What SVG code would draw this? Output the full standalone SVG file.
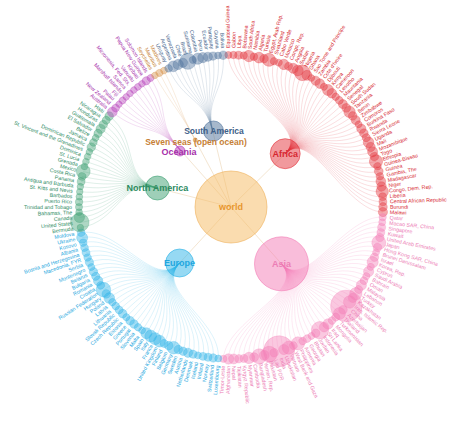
<svg xmlns="http://www.w3.org/2000/svg" width="474" height="423" viewBox="0 0 474 423">
<style>
text{font-family:"Liberation Sans",Arial,Helvetica,sans-serif}
.lf text{font-size:5.3px}
.lf .e{text-anchor:end}
.lf circle{fill-opacity:.42;stroke-width:.5;stroke-opacity:.5}
.af circle{fill:#e3343c;stroke:#e3343c}.af text{fill:#d62730}
.as circle{fill:#f47cb6;stroke:#f47cb6}.as text{fill:#ec7db5}
.eu circle{fill:#2eb3e8;stroke:#2eb3e8}.eu text{fill:#22a6de}
.na circle{fill:#3d9f72;stroke:#3d9f72}.na text{fill:#2d8b5f}
.oc circle{fill:#b63db9;stroke:#b63db9}.oc text{fill:#a630aa}
.ss circle{fill:#d58d40;stroke:#d58d40}.ss text{fill:#c67f36}
.sa circle{fill:#4d719a;stroke:#4d719a}.sa text{fill:#3e6189}
.wd circle{fill:#f5b95f;stroke:#eeae55}.wd text{fill:#e8962e}
g.lk{fill:none;stroke-width:.45;stroke-opacity:.34}
.cn circle{fill-opacity:.5;stroke-opacity:.75;stroke-width:.8}
.cn text{font-size:9px;font-weight:bold;text-anchor:middle}
.cn .sm{font-size:8.5px}
</style>
<defs>
<path id="k0" d="M76 0L152 0"/>
<path id="k1" d="M76 0C114 0 114 1.9 152 2.6M76 0C114 0 114 -1.9 152 -2.6"/>
<path id="k2" d="M76 0C114 0 113.9 3.9 151.9 5.1M76 0C114 0 113.9 -3.9 151.9 -5.1"/>
<path id="k3" d="M76 0C114 0 113.9 5.8 151.8 7.7M76 0C114 0 113.9 -5.8 151.8 -7.7"/>
<path id="k4" d="M76 0C114 0 113.7 7.7 151.7 10.3M76 0C114 0 113.7 -7.7 151.7 -10.3"/>
<path id="k5" d="M76 0C114 0 113.6 9.6 151.5 12.8M76 0C114 0 113.6 -9.6 151.5 -12.8"/>
<path id="k6" d="M76 0C114 0 113.4 11.5 151.2 15.4M76 0C114 0 113.4 -11.5 151.2 -15.4"/>
<path id="k7" d="M76 0C114 0 113.2 13.4 150.9 17.9M76 0C114 0 113.2 -13.4 150.9 -17.9"/>
<path id="k8" d="M76 0C114 0 113 15.4 150.6 20.5M76 0C114 0 113 -15.4 150.6 -20.5"/>
<path id="k9" d="M76 0C114 0 112.7 17.3 150.2 23M76 0C114 0 112.7 -17.3 150.2 -23"/>
<path id="k10" d="M76 0C114 0 112.4 19.2 149.8 25.6M76 0C114 0 112.4 -19.2 149.8 -25.6"/>
<path id="k11" d="M76 0C114 0 112 21.1 149.4 28.1M76 0C114 0 112 -21.1 149.4 -28.1"/>
<path id="k12" d="M76 0C114 0 111.7 22.9 148.9 30.6M76 0C114 0 111.7 -22.9 148.9 -30.6"/>
<path id="k13" d="M76 0C114 0 111.3 24.8 148.4 33.1M76 0C114 0 111.3 -24.8 148.4 -33.1"/>
<path id="k14" d="M76 0C114 0 110.8 26.7 147.8 35.6M76 0C114 0 110.8 -26.7 147.8 -35.6"/>
<path id="k15" d="M76 0C114 0 110.4 28.6 147.2 38.1M76 0C114 0 110.4 -28.6 147.2 -38.1"/>
<path id="k16" d="M76 0C114 0 109.9 30.4 146.5 40.6M76 0C114 0 109.9 -30.4 146.5 -40.6"/>
<path id="k17" d="M76 0C114 0 109.3 32.3 145.8 43M76 0C114 0 109.3 -32.3 145.8 -43"/>
<path id="k18" d="M76 0C114 0 108.8 34.1 145 45.5M76 0C114 0 108.8 -34.1 145 -45.5"/>
<path id="k19" d="M76 0C114 0 108.2 36 144.2 47.9M76 0C114 0 108.2 -36 144.2 -47.9"/>
<path id="k20" d="M76 0C114 0 107.6 37.8 143.4 50.4M76 0C114 0 107.6 -37.8 143.4 -50.4"/>
<path id="k21" d="M76 0C114 0 106.9 39.6 142.5 52.8M76 0C114 0 106.9 -39.6 142.5 -52.8"/>
<path id="k22" d="M76 0C114 0 106.2 41.4 141.6 55.2M76 0C114 0 106.2 -41.4 141.6 -55.2"/>
<path id="k23" d="M76 0C114 0 105.5 43.2 140.7 57.6M76 0C114 0 105.5 -43.2 140.7 -57.6"/>
<path id="k24" d="M76 0C114 0 104.8 45 139.7 59.9M76 0C114 0 104.8 -45 139.7 -59.9"/>
<path id="k25" d="M76 0C114 0 104 46.7 138.7 62.3M76 0C114 0 104 -46.7 138.7 -62.3"/>
<path id="k26" d="M76 0C114 0 103.2 48.5 137.6 64.6M76 0C114 0 103.2 -48.5 137.6 -64.6"/>
<path id="k27" d="M76 0C114 0 102.4 50.2 136.5 66.9M76 0C114 0 102.4 -50.2 136.5 -66.9"/>
<path id="k28" d="M76 0C114 0 101.5 51.9 135.3 69.2M76 0C114 0 101.5 -51.9 135.3 -69.2"/>
<path id="k29" d="M76 0C114 0 100.6 53.6 134.1 71.5M76 0C114 0 100.6 -53.6 134.1 -71.5"/>
<path id="k30" d="M76 0C114 0 99.7 55.3 132.9 73.8M76 0C114 0 99.7 -55.3 132.9 -73.8"/>
<path id="k31" d="M76 0C114 0 98.7 57 131.6 76M76 0C114 0 98.7 -57 131.6 -76"/>
<path id="k32" d="M76 0C114 0 97.8 58.7 130.3 78.2M76 0C114 0 97.8 -58.7 130.3 -78.2"/>
<path id="k33" d="M76 0C114 0 96.7 60.3 129 80.4M76 0C114 0 96.7 -60.3 129 -80.4"/>
<path id="k34" d="M76 0C114 0 95.7 61.9 127.6 82.6M76 0C114 0 95.7 -61.9 127.6 -82.6"/>
<path id="k35" d="M76 0C114 0 94.7 63.5 126.2 84.7M76 0C114 0 94.7 -63.5 126.2 -84.7"/>
<path id="k36" d="M76 0C114 0 93.6 65.1 124.8 86.8M76 0C114 0 93.6 -65.1 124.8 -86.8"/>
<path id="k37" d="M76 0C114 0 92.5 66.7 123.3 88.9M76 0C114 0 92.5 -66.7 123.3 -88.9"/>
<path id="k38" d="M76 0C114 0 91.3 68.2 121.8 91M76 0C114 0 91.3 -68.2 121.8 -91"/>
<path id="k39" d="M76 0C114 0 90.1 69.8 120.2 93M76 0C114 0 90.1 -69.8 120.2 -93"/>
<path id="k40" d="M76 0C114 0 89 71.3 118.6 95.1M76 0C114 0 89 -71.3 118.6 -95.1"/>
<path id="k42" d="M76 0C114 0 86.5 74.3 115.3 99M76 0C114 0 86.5 -74.3 115.3 -99"/>
<path id="k44" d="M76 0C114 0 83.9 77.1 111.9 102.9M76 0C114 0 83.9 -77.1 111.9 -102.9"/>
<path id="k46" d="M76 0C114 0 81.3 79.9 108.4 106.6M76 0C114 0 81.3 -79.9 108.4 -106.6"/>
<path id="k48" d="M76 0C114 0 78.5 82.6 104.7 110.2M76 0C114 0 78.5 -82.6 104.7 -110.2"/>
</defs>
<rect width="474" height="423" fill="#fff"/>
<g id="connectors">
<g id="world-links" stroke="#e6c9a2" stroke-width=".7" stroke-opacity=".7">
<line x1="231" y1="207" x2="285.2" y2="153.7"/>
<line x1="231" y1="207" x2="281.5" y2="263.8"/>
<line x1="231" y1="207" x2="179.6" y2="263"/>
<line x1="231" y1="207" x2="157.4" y2="188"/>
<line x1="231" y1="207" x2="180.5" y2="150.2"/>
<line x1="231" y1="207" x2="195.2" y2="140"/>
<line x1="231" y1="207" x2="213.2" y2="133.1"/>
</g>
<g class="lk" stroke="#e3343c" transform="translate(231 207) rotate(-44.55)"><use href="#k0"/><use href="#k2"/><use href="#k4"/><use href="#k6"/><use href="#k8"/><use href="#k10"/><use href="#k12"/><use href="#k14"/><use href="#k16"/><use href="#k18"/><use href="#k20"/><use href="#k22"/><use href="#k24"/><use href="#k26"/><use href="#k28"/><use href="#k30"/><use href="#k32"/><use href="#k34"/><use href="#k36"/><use href="#k38"/><use href="#k40"/><use href="#k42"/><use href="#k44"/><use href="#k46"/><use href="#k48"/></g>
<g class="lk" stroke="#f47cb6" transform="translate(231 207) rotate(48.35)"><use href="#k0"/><use href="#k2"/><use href="#k4"/><use href="#k6"/><use href="#k8"/><use href="#k10"/><use href="#k12"/><use href="#k14"/><use href="#k16"/><use href="#k18"/><use href="#k20"/><use href="#k22"/><use href="#k24"/><use href="#k26"/><use href="#k28"/><use href="#k30"/><use href="#k32"/><use href="#k34"/><use href="#k36"/><use href="#k38"/><use href="#k40"/><use href="#k42"/><use href="#k44"/><use href="#k46"/></g>
<g class="lk" stroke="#2eb3e8" transform="translate(231 207) rotate(132.55)"><use href="#k1"/><use href="#k3"/><use href="#k5"/><use href="#k7"/><use href="#k9"/><use href="#k11"/><use href="#k13"/><use href="#k15"/><use href="#k17"/><use href="#k19"/><use href="#k21"/><use href="#k23"/><use href="#k25"/><use href="#k27"/><use href="#k29"/><use href="#k31"/><use href="#k33"/><use href="#k35"/><use href="#k37"/><use href="#k39"/></g>
<g class="lk" stroke="#3d9f72" transform="translate(231 207) rotate(194.48)"><use href="#k1"/><use href="#k3"/><use href="#k5"/><use href="#k7"/><use href="#k9"/><use href="#k11"/><use href="#k13"/><use href="#k15"/><use href="#k17"/><use href="#k19"/><use href="#k21"/><use href="#k23"/></g>
<g class="lk" stroke="#b63db9" transform="translate(231 207) rotate(228.35)"><use href="#k0"/><use href="#k2"/><use href="#k4"/><use href="#k6"/><use href="#k8"/><use href="#k10"/></g>
<g class="lk" stroke="#d58d40" transform="translate(231 207) rotate(241.9)"><use href="#k0"/><use href="#k2"/></g>
<g class="lk" stroke="#4d719a" transform="translate(231 207) rotate(256.42)"><use href="#k1"/><use href="#k3"/><use href="#k5"/><use href="#k7"/><use href="#k9"/><use href="#k11"/></g>
</g>
<g class="cn">
<g id="world" class="wd"><circle cx="231" cy="207" r="36" fill-opacity=".55"/></g>
<g id="asia" class="as"><circle cx="281.5" cy="263.8" r="27" fill-opacity=".4"/></g>
<g id="africa" class="af"><circle cx="285.2" cy="153.7" r="15"/></g>
<g id="europe" class="eu"><circle cx="179.6" cy="263" r="14"/></g>
<g id="north-america" class="na"><circle cx="157.4" cy="188" r="12"/></g>
<g id="south-america" class="sa"><circle cx="213.5" cy="131" r="10"/></g>
<g id="oceania" class="oc"><circle cx="180" cy="151" r="5"/></g>
<g id="seven-seas" class="ss"><circle cx="195.2" cy="140" r="2"/></g>
</g>
<g class="lf af" transform="translate(231 207)">
<g id="equatorial-guinea" transform="rotate(-91)"><circle cx="152" r="3.6"/><text x="159" dy="1.8">Equatorial Guinea</text></g>
<g id="gabon" transform="rotate(-89.06)"><circle cx="152" r="3.7"/><text x="159" dy="1.8">Gabon</text></g>
<g id="libya" transform="rotate(-87.13)"><circle cx="152" r="4"/><text x="159" dy="1.8">Libya</text></g>
<g id="botswana" transform="rotate(-85.19)"><circle cx="152" r="3.7"/><text x="159" dy="1.8">Botswana</text></g>
<g id="south-africa" transform="rotate(-83.26)"><circle cx="152" r="5.7"/><text x="159" dy="1.8">South Africa</text></g>
<g id="namibia" transform="rotate(-81.32)"><circle cx="152" r="3.7"/><text x="159" dy="1.8">Namibia</text></g>
<g id="algeria" transform="rotate(-79.39)"><circle cx="152" r="5.4"/><text x="159" dy="1.8">Algeria</text></g>
<g id="tunisia" transform="rotate(-77.45)"><circle cx="152" r="4.3"/><text x="159" dy="1.8">Tunisia</text></g>
<g id="egypt" transform="rotate(-75.52)"><circle cx="152" r="6.5"/><text x="159" dy="1.8">Egypt, Arab Rep.</text></g>
<g id="swaziland" transform="rotate(-73.58)"><circle cx="152" r="3.6"/><text x="159" dy="1.8">Swaziland</text></g>
<g id="cabo-verde" transform="rotate(-71.65)"><circle cx="152" r="3.4"/><text x="159" dy="1.8">Cabo Verde</text></g>
<g id="morocco" transform="rotate(-69.71)"><circle cx="152" r="5.2"/><text x="159" dy="1.8">Morocco</text></g>
<g id="congo-rep" transform="rotate(-67.77)"><circle cx="152" r="3.9"/><text x="159" dy="1.8">Congo, Rep.</text></g>
<g id="angola" transform="rotate(-65.84)"><circle cx="152" r="5"/><text x="159" dy="1.8">Angola</text></g>
<g id="sudan" transform="rotate(-63.9)"><circle cx="152" r="5.4"/><text x="159" dy="1.8">Sudan</text></g>
<g id="nigeria" transform="rotate(-61.97)"><circle cx="152" r="7.8"/><text x="159" dy="1.8">Nigeria</text></g>
<g id="ghana" transform="rotate(-60.03)"><circle cx="152" r="5"/><text x="159" dy="1.8">Ghana</text></g>
<g id="sao-tome" transform="rotate(-58.1)"><circle cx="152" r="3.4"/><text x="159" dy="1.8">Sao Tome and Principe</text></g>
<g id="zambia" transform="rotate(-56.16)"><circle cx="152" r="4.6"/><text x="159" dy="1.8">Zambia</text></g>
<g id="cote-divoire" transform="rotate(-54.23)"><circle cx="152" r="4.8"/><text x="159" dy="1.8">Cote d'Ivoire</text></g>
<g id="djibouti" transform="rotate(-52.29)"><circle cx="152" r="3.5"/><text x="159" dy="1.8">Djibouti</text></g>
<g id="kenya" transform="rotate(-50.35)"><circle cx="152" r="5.5"/><text x="159" dy="1.8">Kenya</text></g>
<g id="cameroon" transform="rotate(-48.42)"><circle cx="152" r="4.8"/><text x="159" dy="1.8">Cameroon</text></g>
<g id="lesotho" transform="rotate(-46.48)"><circle cx="152" r="3.7"/><text x="159" dy="1.8">Lesotho</text></g>
<g id="mauritania" transform="rotate(-44.55)"><circle cx="152" r="3.9"/><text x="159" dy="1.8">Mauritania</text></g>
<g id="senegal" transform="rotate(-42.61)"><circle cx="152" r="4.5"/><text x="159" dy="1.8">Senegal</text></g>
<g id="south-sudan" transform="rotate(-40.68)"><circle cx="152" r="4.4"/><text x="159" dy="1.8">South Sudan</text></g>
<g id="tanzania" transform="rotate(-38.74)"><circle cx="152" r="5.7"/><text x="159" dy="1.8">Tanzania</text></g>
<g id="benin" transform="rotate(-36.81)"><circle cx="152" r="4.3"/><text x="159" dy="1.8">Benin</text></g>
<g id="zimbabwe" transform="rotate(-34.87)"><circle cx="152" r="4.5"/><text x="159" dy="1.8">Zimbabwe</text></g>
<g id="comoros" transform="rotate(-32.94)"><circle cx="152" r="3.5"/><text x="159" dy="1.8">Comoros</text></g>
<g id="burkina-faso" transform="rotate(-31)"><circle cx="152" r="4.6"/><text x="159" dy="1.8">Burkina Faso</text></g>
<g id="rwanda" transform="rotate(-29.06)"><circle cx="152" r="4.3"/><text x="159" dy="1.8">Rwanda</text></g>
<g id="sierra-leone" transform="rotate(-27.13)"><circle cx="152" r="4.1"/><text x="159" dy="1.8">Sierra Leone</text></g>
<g id="uganda" transform="rotate(-25.19)"><circle cx="152" r="5.3"/><text x="159" dy="1.8">Uganda</text></g>
<g id="mali" transform="rotate(-23.26)"><circle cx="152" r="4.6"/><text x="159" dy="1.8">Mali</text></g>
<g id="mozambique" transform="rotate(-21.32)"><circle cx="152" r="5"/><text x="159" dy="1.8">Mozambique</text></g>
<g id="togo" transform="rotate(-19.39)"><circle cx="152" r="4.1"/><text x="159" dy="1.8">Togo</text></g>
<g id="ethiopia" transform="rotate(-17.45)"><circle cx="152" r="6.6"/><text x="159" dy="1.8">Ethiopia</text></g>
<g id="guinea-bissau" transform="rotate(-15.52)"><circle cx="152" r="3.7"/><text x="159" dy="1.8">Guinea-Bissau</text></g>
<g id="guinea" transform="rotate(-13.58)"><circle cx="152" r="4.4"/><text x="159" dy="1.8">Guinea</text></g>
<g id="gambia" transform="rotate(-11.65)"><circle cx="152" r="3.7"/><text x="159" dy="1.8">Gambia, The</text></g>
<g id="madagascar" transform="rotate(-9.71)"><circle cx="152" r="4.9"/><text x="159" dy="1.8">Madagascar</text></g>
<g id="niger" transform="rotate(-7.77)"><circle cx="152" r="4.7"/><text x="159" dy="1.8">Niger</text></g>
<g id="congo-dem-rep" transform="rotate(-5.84)"><circle cx="152" r="6.2"/><text x="159" dy="1.8">Congo, Dem. Rep.</text></g>
<g id="liberia" transform="rotate(-3.9)"><circle cx="152" r="3.9"/><text x="159" dy="1.8">Liberia</text></g>
<g id="central-african-republic" transform="rotate(-1.97)"><circle cx="152" r="3.9"/><text x="159" dy="1.8">Central African Republic</text></g>
<g id="burundi" transform="rotate(-0.03)"><circle cx="152" r="4.3"/><text x="159" dy="1.8">Burundi</text></g>
<g id="malawi" transform="rotate(1.9)"><circle cx="152" r="4.6"/><text x="159" dy="1.8">Malawi</text></g>
</g>
<g class="lf as" transform="translate(231 207)">
<g id="qatar" transform="rotate(3.84)"><circle cx="152" r="3.7"/><text x="159" dy="1.8">Qatar</text></g>
<g id="macao" transform="rotate(5.77)"><circle cx="152" r="3.5"/><text x="159" dy="1.8">Macao SAR, China</text></g>
<g id="singapore" transform="rotate(7.71)"><circle cx="152" r="4"/><text x="159" dy="1.8">Singapore</text></g>
<g id="kuwait" transform="rotate(9.65)"><circle cx="152" r="3.9"/><text x="159" dy="1.8">Kuwait</text></g>
<g id="uae" transform="rotate(11.58)"><circle cx="152" r="4.2"/><text x="159" dy="1.8">United Arab Emirates</text></g>
<g id="japan" transform="rotate(13.52)"><circle cx="152" r="7"/><text x="159" dy="1.8">Japan</text></g>
<g id="hong-kong" transform="rotate(15.45)"><circle cx="152" r="4.1"/><text x="159" dy="1.8">Hong Kong SAR, China</text></g>
<g id="brunei" transform="rotate(17.39)"><circle cx="152" r="3.4"/><text x="159" dy="1.8">Brunei Darussalam</text></g>
<g id="israel" transform="rotate(19.32)"><circle cx="152" r="4.2"/><text x="159" dy="1.8">Israel</text></g>
<g id="korea" transform="rotate(21.26)"><circle cx="152" r="5.6"/><text x="159" dy="1.8">Korea, Rep.</text></g>
<g id="cyprus" transform="rotate(23.19)"><circle cx="152" r="3.6"/><text x="159" dy="1.8">Cyprus</text></g>
<g id="saudi-arabia" transform="rotate(25.13)"><circle cx="152" r="5.1"/><text x="159" dy="1.8">Saudi Arabia</text></g>
<g id="bahrain" transform="rotate(27.06)"><circle cx="152" r="3.6"/><text x="159" dy="1.8">Bahrain</text></g>
<g id="oman" transform="rotate(29)"><circle cx="152" r="3.9"/><text x="159" dy="1.8">Oman</text></g>
<g id="malaysia" transform="rotate(30.94)"><circle cx="152" r="5.1"/><text x="159" dy="1.8">Malaysia</text></g>
<g id="lebanon" transform="rotate(32.87)"><circle cx="152" r="4"/><text x="159" dy="1.8">Lebanon</text></g>
<g id="turkey" transform="rotate(34.81)"><circle cx="152" r="6.2"/><text x="159" dy="1.8">Turkey</text></g>
<g id="kazakhstan" transform="rotate(36.74)"><circle cx="152" r="4.6"/><text x="159" dy="1.8">Kazakhstan</text></g>
<g id="iran" transform="rotate(38.68)"><circle cx="152" r="6.2"/><text x="159" dy="1.8">Iran, Islamic Rep.</text></g>
<g id="china" transform="rotate(40.61)"><circle cx="152" r="15.8"/><text x="159" dy="1.8">China</text></g>
<g id="azerbaijan" transform="rotate(42.55)"><circle cx="152" r="4.3"/><text x="159" dy="1.8">Azerbaijan</text></g>
<g id="thailand" transform="rotate(44.48)"><circle cx="152" r="6"/><text x="159" dy="1.8">Thailand</text></g>
<g id="turkmenistan" transform="rotate(46.42)"><circle cx="152" r="4"/><text x="159" dy="1.8">Turkmenistan</text></g>
<g id="mongolia" transform="rotate(48.35)"><circle cx="152" r="3.8"/><text x="159" dy="1.8">Mongolia</text></g>
<g id="iraq" transform="rotate(50.29)"><circle cx="152" r="5.2"/><text x="159" dy="1.8">Iraq</text></g>
<g id="sri-lanka" transform="rotate(52.23)"><circle cx="152" r="4.8"/><text x="159" dy="1.8">Sri Lanka</text></g>
<g id="indonesia" transform="rotate(54.16)"><circle cx="152" r="8.7"/><text x="159" dy="1.8">Indonesia</text></g>
<g id="jordan" transform="rotate(56.1)"><circle cx="152" r="4.2"/><text x="159" dy="1.8">Jordan</text></g>
<g id="bhutan" transform="rotate(58.03)"><circle cx="152" r="3.5"/><text x="159" dy="1.8">Bhutan</text></g>
<g id="georgia" transform="rotate(59.97)"><circle cx="152" r="3.9"/><text x="159" dy="1.8">Georgia</text></g>
<g id="armenia" transform="rotate(61.9)"><circle cx="152" r="3.8"/><text x="159" dy="1.8">Armenia</text></g>
<g id="philippines" transform="rotate(63.84)"><circle cx="152" r="6.6"/><text x="159" dy="1.8">Philippines</text></g>
<g id="west-bank" transform="rotate(65.77)"><circle cx="152" r="3.9"/><text x="159" dy="1.8">West Bank and Gaza</text></g>
<g id="vietnam" transform="rotate(67.71)"><circle cx="152" r="6.5"/><text x="159" dy="1.8">Vietnam</text></g>
<g id="uzbekistan" transform="rotate(69.65)"><circle cx="152" r="5.1"/><text x="159" dy="1.8">Uzbekistan</text></g>
<g id="india" transform="rotate(71.58)"><circle cx="152" r="15.5"/><text x="159" dy="1.8">India</text></g>
<g id="lao" transform="rotate(73.52)"><circle cx="152" r="4.1"/><text x="159" dy="1.8">Lao PDR</text></g>
<g id="pakistan" transform="rotate(75.45)"><circle cx="152" r="7.9"/><text x="159" dy="1.8">Pakistan</text></g>
<g id="yemen" transform="rotate(77.39)"><circle cx="152" r="5"/><text x="159" dy="1.8">Yemen, Rep.</text></g>
<g id="bangladesh" transform="rotate(79.32)"><circle cx="152" r="7.5"/><text x="159" dy="1.8">Bangladesh</text></g>
<g id="cambodia" transform="rotate(81.26)"><circle cx="152" r="4.5"/><text x="159" dy="1.8">Cambodia</text></g>
<g id="myanmar" transform="rotate(83.19)"><circle cx="152" r="5.7"/><text x="159" dy="1.8">Myanmar</text></g>
<g id="kyrgyz" transform="rotate(85.13)"><circle cx="152" r="4"/><text x="159" dy="1.8">Kyrgyz Republic</text></g>
<g id="tajikistan" transform="rotate(87.06)"><circle cx="152" r="4.2"/><text x="159" dy="1.8">Tajikistan</text></g>
<g id="nepal" transform="rotate(89)"><circle cx="152" r="5"/><text x="159" dy="1.8">Nepal</text></g>
<g id="afghanistan" transform="rotate(-89.06)"><circle cx="-152" r="5.2"/><text class="e" x="-159" dy="1.8">Afghanistan</text></g>
<g id="timor-leste" transform="rotate(-87.13)"><circle cx="-152" r="3.6"/><text class="e" x="-159" dy="1.8">Timor-Leste</text></g>
</g>
<g class="lf eu" transform="translate(231 207)">
<g id="luxembourg" transform="rotate(-85.19)"><circle cx="-152" r="3.5"/><text class="e" x="-159" dy="1.8">Luxembourg</text></g>
<g id="switzerland" transform="rotate(-83.26)"><circle cx="-152" r="4.2"/><text class="e" x="-159" dy="1.8">Switzerland</text></g>
<g id="norway" transform="rotate(-81.32)"><circle cx="-152" r="4"/><text class="e" x="-159" dy="1.8">Norway</text></g>
<g id="ireland" transform="rotate(-79.39)"><circle cx="-152" r="3.9"/><text class="e" x="-159" dy="1.8">Ireland</text></g>
<g id="iceland" transform="rotate(-77.45)"><circle cx="-152" r="3.4"/><text class="e" x="-159" dy="1.8">Iceland</text></g>
<g id="denmark" transform="rotate(-75.52)"><circle cx="-152" r="4"/><text class="e" x="-159" dy="1.8">Denmark</text></g>
<g id="netherlands" transform="rotate(-73.58)"><circle cx="-152" r="4.6"/><text class="e" x="-159" dy="1.8">Netherlands</text></g>
<g id="austria" transform="rotate(-71.65)"><circle cx="-152" r="4.2"/><text class="e" x="-159" dy="1.8">Austria</text></g>
<g id="sweden" transform="rotate(-69.71)"><circle cx="-152" r="4.3"/><text class="e" x="-159" dy="1.8">Sweden</text></g>
<g id="germany" transform="rotate(-67.77)"><circle cx="-152" r="6.3"/><text class="e" x="-159" dy="1.8">Germany</text></g>
<g id="belgium" transform="rotate(-65.84)"><circle cx="-152" r="4.3"/><text class="e" x="-159" dy="1.8">Belgium</text></g>
<g id="finland" transform="rotate(-63.9)"><circle cx="-152" r="4"/><text class="e" x="-159" dy="1.8">Finland</text></g>
<g id="united-kingdom" transform="rotate(-61.97)"><circle cx="-152" r="5.9"/><text class="e" x="-159" dy="1.8">United Kingdom</text></g>
<g id="france" transform="rotate(-60.03)"><circle cx="-152" r="6"/><text class="e" x="-159" dy="1.8">France</text></g>
<g id="italy" transform="rotate(-58.1)"><circle cx="-152" r="5.9"/><text class="e" x="-159" dy="1.8">Italy</text></g>
<g id="spain" transform="rotate(-56.16)"><circle cx="-152" r="5.5"/><text class="e" x="-159" dy="1.8">Spain</text></g>
<g id="malta" transform="rotate(-54.23)"><circle cx="-152" r="3.4"/><text class="e" x="-159" dy="1.8">Malta</text></g>
<g id="slovenia" transform="rotate(-52.29)"><circle cx="-152" r="3.7"/><text class="e" x="-159" dy="1.8">Slovenia</text></g>
<g id="portugal" transform="rotate(-50.35)"><circle cx="-152" r="4.3"/><text class="e" x="-159" dy="1.8">Portugal</text></g>
<g id="greece" transform="rotate(-48.42)"><circle cx="-152" r="4.3"/><text class="e" x="-159" dy="1.8">Greece</text></g>
<g id="estonia" transform="rotate(-46.48)"><circle cx="-152" r="3.6"/><text class="e" x="-159" dy="1.8">Estonia</text></g>
<g id="czech-republic" transform="rotate(-44.55)"><circle cx="-152" r="4.3"/><text class="e" x="-159" dy="1.8">Czech Republic</text></g>
<g id="slovak-republic" transform="rotate(-42.61)"><circle cx="-152" r="4"/><text class="e" x="-159" dy="1.8">Slovak Republic</text></g>
<g id="lithuania" transform="rotate(-40.68)"><circle cx="-152" r="3.8"/><text class="e" x="-159" dy="1.8">Lithuania</text></g>
<g id="latvia" transform="rotate(-38.74)"><circle cx="-152" r="3.7"/><text class="e" x="-159" dy="1.8">Latvia</text></g>
<g id="poland" transform="rotate(-36.81)"><circle cx="-152" r="5.3"/><text class="e" x="-159" dy="1.8">Poland</text></g>
<g id="hungary" transform="rotate(-34.87)"><circle cx="-152" r="4.3"/><text class="e" x="-159" dy="1.8">Hungary</text></g>
<g id="russia" transform="rotate(-32.94)"><circle cx="-152" r="7.3"/><text class="e" x="-159" dy="1.8">Russian Federation</text></g>
<g id="croatia" transform="rotate(-31)"><circle cx="-152" r="3.9"/><text class="e" x="-159" dy="1.8">Croatia</text></g>
<g id="romania" transform="rotate(-29.06)"><circle cx="-152" r="4.7"/><text class="e" x="-159" dy="1.8">Romania</text></g>
<g id="bulgaria" transform="rotate(-27.13)"><circle cx="-152" r="4.1"/><text class="e" x="-159" dy="1.8">Bulgaria</text></g>
<g id="belarus" transform="rotate(-25.19)"><circle cx="-152" r="4.2"/><text class="e" x="-159" dy="1.8">Belarus</text></g>
<g id="montenegro" transform="rotate(-23.26)"><circle cx="-152" r="3.5"/><text class="e" x="-159" dy="1.8">Montenegro</text></g>
<g id="serbia" transform="rotate(-21.32)"><circle cx="-152" r="4.1"/><text class="e" x="-159" dy="1.8">Serbia</text></g>
<g id="macedonia" transform="rotate(-19.39)"><circle cx="-152" r="3.7"/><text class="e" x="-159" dy="1.8">Macedonia, FYR</text></g>
<g id="bosnia" transform="rotate(-17.45)"><circle cx="-152" r="3.9"/><text class="e" x="-159" dy="1.8">Bosnia and Herzegovina</text></g>
<g id="albania" transform="rotate(-15.52)"><circle cx="-152" r="3.8"/><text class="e" x="-159" dy="1.8">Albania</text></g>
<g id="kosovo" transform="rotate(-13.58)"><circle cx="-152" r="3.7"/><text class="e" x="-159" dy="1.8">Kosovo</text></g>
<g id="ukraine" transform="rotate(-11.65)"><circle cx="-152" r="5.5"/><text class="e" x="-159" dy="1.8">Ukraine</text></g>
<g id="moldova" transform="rotate(-9.71)"><circle cx="-152" r="3.8"/><text class="e" x="-159" dy="1.8">Moldova</text></g>
</g>
<g class="lf na" transform="translate(231 207)">
<g id="bermuda" transform="rotate(-7.77)"><circle cx="-152" r="3.3"/><text class="e" x="-159" dy="1.8">Bermuda</text></g>
<g id="united-states" transform="rotate(-5.84)"><circle cx="-152" r="9.3"/><text class="e" x="-159" dy="1.8">United States</text></g>
<g id="canada" transform="rotate(-3.9)"><circle cx="-152" r="5.2"/><text class="e" x="-159" dy="1.8">Canada</text></g>
<g id="bahamas" transform="rotate(-1.97)"><circle cx="-152" r="3.4"/><text class="e" x="-159" dy="1.8">Bahamas, The</text></g>
<g id="trinidad" transform="rotate(-0.03)"><circle cx="-152" r="3.6"/><text class="e" x="-159" dy="1.8">Trinidad and Tobago</text></g>
<g id="puerto-rico" transform="rotate(1.9)"><circle cx="-152" r="3.8"/><text class="e" x="-159" dy="1.8">Puerto Rico</text></g>
<g id="barbados" transform="rotate(3.84)"><circle cx="-152" r="3.4"/><text class="e" x="-159" dy="1.8">Barbados</text></g>
<g id="st-kitts" transform="rotate(5.77)"><circle cx="-152" r="3.3"/><text class="e" x="-159" dy="1.8">St. Kitts and Nevis</text></g>
<g id="antigua" transform="rotate(7.71)"><circle cx="-152" r="3.3"/><text class="e" x="-159" dy="1.8">Antigua and Barbuda</text></g>
<g id="panama" transform="rotate(9.65)"><circle cx="-152" r="3.9"/><text class="e" x="-159" dy="1.8">Panama</text></g>
<g id="costa-rica" transform="rotate(11.58)"><circle cx="-152" r="3.9"/><text class="e" x="-159" dy="1.8">Costa Rica</text></g>
<g id="mexico" transform="rotate(13.52)"><circle cx="-152" r="7"/><text class="e" x="-159" dy="1.8">Mexico</text></g>
<g id="grenada" transform="rotate(15.45)"><circle cx="-152" r="3.3"/><text class="e" x="-159" dy="1.8">Grenada</text></g>
<g id="st-lucia" transform="rotate(17.39)"><circle cx="-152" r="3.3"/><text class="e" x="-159" dy="1.8">St. Lucia</text></g>
<g id="dominica" transform="rotate(19.32)"><circle cx="-152" r="3.3"/><text class="e" x="-159" dy="1.8">Dominica</text></g>
<g id="st-vincent" transform="rotate(21.26)"><circle cx="-152" r="3.3"/><text class="e" x="-159" dy="1.8">St. Vincent and the Grenadines</text></g>
<g id="dominican-republic" transform="rotate(23.19)"><circle cx="-152" r="4.3"/><text class="e" x="-159" dy="1.8">Dominican Republic</text></g>
<g id="jamaica" transform="rotate(25.13)"><circle cx="-152" r="3.8"/><text class="e" x="-159" dy="1.8">Jamaica</text></g>
<g id="belize" transform="rotate(27.06)"><circle cx="-152" r="3.4"/><text class="e" x="-159" dy="1.8">Belize</text></g>
<g id="el-salvador" transform="rotate(29)"><circle cx="-152" r="4.1"/><text class="e" x="-159" dy="1.8">El Salvador</text></g>
<g id="guatemala" transform="rotate(30.94)"><circle cx="-152" r="4.6"/><text class="e" x="-159" dy="1.8">Guatemala</text></g>
<g id="honduras" transform="rotate(32.87)"><circle cx="-152" r="4.2"/><text class="e" x="-159" dy="1.8">Honduras</text></g>
<g id="nicaragua" transform="rotate(34.81)"><circle cx="-152" r="4"/><text class="e" x="-159" dy="1.8">Nicaragua</text></g>
<g id="haiti" transform="rotate(36.74)"><circle cx="-152" r="4.3"/><text class="e" x="-159" dy="1.8">Haiti</text></g>
</g>
<g class="lf oc" transform="translate(231 207)">
<g id="australia" transform="rotate(38.68)"><circle cx="-152" r="4.9"/><text class="e" x="-159" dy="1.8">Australia</text></g>
<g id="new-zealand" transform="rotate(40.61)"><circle cx="-152" r="3.9"/><text class="e" x="-159" dy="1.8">New Zealand</text></g>
<g id="palau" transform="rotate(42.55)"><circle cx="-152" r="3.2"/><text class="e" x="-159" dy="1.8">Palau</text></g>
<g id="fiji" transform="rotate(44.48)"><circle cx="-152" r="3.5"/><text class="e" x="-159" dy="1.8">Fiji</text></g>
<g id="marshall-islands" transform="rotate(46.42)"><circle cx="-152" r="3.3"/><text class="e" x="-159" dy="1.8">Marshall Islands</text></g>
<g id="samoa" transform="rotate(48.35)"><circle cx="-152" r="3.3"/><text class="e" x="-159" dy="1.8">Samoa</text></g>
<g id="micronesia" transform="rotate(50.29)"><circle cx="-152" r="3.3"/><text class="e" x="-159" dy="1.8">Micronesia, Fed. Sts.</text></g>
<g id="vanuatu" transform="rotate(52.23)"><circle cx="-152" r="3.4"/><text class="e" x="-159" dy="1.8">Vanuatu</text></g>
<g id="kiribati" transform="rotate(54.16)"><circle cx="-152" r="3.3"/><text class="e" x="-159" dy="1.8">Kiribati</text></g>
<g id="papua-new-guinea" transform="rotate(56.1)"><circle cx="-152" r="4.1"/><text class="e" x="-159" dy="1.8">Papua New Guinea</text></g>
<g id="solomon-islands" transform="rotate(58.03)"><circle cx="-152" r="3.5"/><text class="e" x="-159" dy="1.8">Solomon Islands</text></g>
</g>
<g class="lf ss" transform="translate(231 207)">
<g id="seychelles" transform="rotate(59.97)"><circle cx="-152" r="3.3"/><text class="e" x="-159" dy="1.8">Seychelles</text></g>
<g id="mauritius" transform="rotate(61.9)"><circle cx="-152" r="3.6"/><text class="e" x="-159" dy="1.8">Mauritius</text></g>
<g id="maldives" transform="rotate(63.84)"><circle cx="-152" r="3.4"/><text class="e" x="-159" dy="1.8">Maldives</text></g>
</g>
<g class="lf sa" transform="translate(231 207)">
<g id="uruguay" transform="rotate(65.77)"><circle cx="-152" r="3.8"/><text class="e" x="-159" dy="1.8">Uruguay</text></g>
<g id="argentina" transform="rotate(67.71)"><circle cx="-152" r="5.4"/><text class="e" x="-159" dy="1.8">Argentina</text></g>
<g id="venezuela" transform="rotate(69.65)"><circle cx="-152" r="5.1"/><text class="e" x="-159" dy="1.8">Venezuela</text></g>
<g id="chile" transform="rotate(71.58)"><circle cx="-152" r="4.6"/><text class="e" x="-159" dy="1.8">Chile</text></g>
<g id="brazil" transform="rotate(73.52)"><circle cx="-152" r="8.1"/><text class="e" x="-159" dy="1.8">Brazil</text></g>
<g id="suriname" transform="rotate(75.45)"><circle cx="-152" r="3.5"/><text class="e" x="-159" dy="1.8">Suriname</text></g>
<g id="colombia" transform="rotate(77.39)"><circle cx="-152" r="5.6"/><text class="e" x="-159" dy="1.8">Colombia</text></g>
<g id="peru" transform="rotate(79.32)"><circle cx="-152" r="5.1"/><text class="e" x="-159" dy="1.8">Peru</text></g>
<g id="ecuador" transform="rotate(81.26)"><circle cx="-152" r="4.6"/><text class="e" x="-159" dy="1.8">Ecuador</text></g>
<g id="paraguay" transform="rotate(83.19)"><circle cx="-152" r="4.1"/><text class="e" x="-159" dy="1.8">Paraguay</text></g>
<g id="guyana" transform="rotate(85.13)"><circle cx="-152" r="3.5"/><text class="e" x="-159" dy="1.8">Guyana</text></g>
<g id="bolivia" transform="rotate(87.06)"><circle cx="-152" r="4.3"/><text class="e" x="-159" dy="1.8">Bolivia</text></g>
</g>
<g class="cn">
<g id="world-label" class="wd"><text x="231" y="210.2">world</text></g>
<g id="asia-label" class="as"><text x="281.5" y="267">Asia</text></g>
<g id="africa-label" class="af"><text x="285.2" y="156.9">Africa</text></g>
<g id="europe-label" class="eu"><text x="179.6" y="266.2">Europe</text></g>
<g id="north-america-label" class="na"><text x="157.4" y="191.2">North America</text></g>
<g id="south-america-label" class="sa"><text class="sm" x="214" y="134.4">South America</text></g>
<g id="seven-seas-label" class="ss"><text class="sm" x="196" y="144.6">Seven seas (open ocean)</text></g>
<g id="oceania-label" class="oc"><text x="179" y="154.8">Oceania</text></g>
</g>
</svg>
